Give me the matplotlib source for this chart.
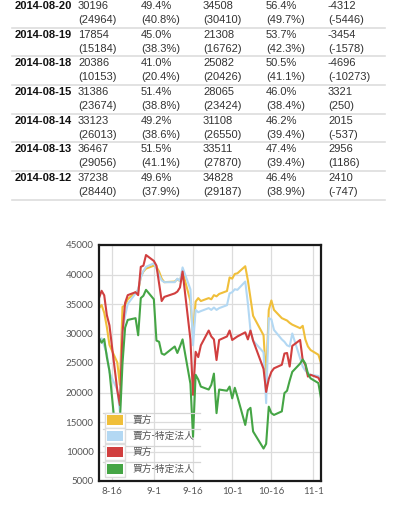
import numpy as np
import pandas as pd
import matplotlib
matplotlib.use("Agg")
import matplotlib.pyplot as plt
import matplotlib.dates as mdates
from matplotlib.patches import Rectangle

# --- table rows (top of picture) ---
tbl_dates = ["2014-08-20", "2014-08-19", "2014-08-18", "2014-08-15",
             "2014-08-14", "2014-08-13", "2014-08-12"]
tbl_buy = ["30196", "17854", "20386", "31386", "33123", "36467", "37238"]
tbl_buy_sub = ["(24964)", "(15184)", "(10153)", "(23674)", "(26013)", "(29056)", "(28440)"]
tbl_buy_pct = ["49.4%", "45.0%", "41.0%", "51.4%", "49.2%", "51.5%", "49.6%"]
tbl_buy_pct_sub = ["(40.8%)", "(38.3%)", "(20.4%)", "(38.8%)", "(38.6%)", "(41.1%)", "(37.9%)"]
tbl_sell = ["34508", "21308", "25082", "28065", "31108", "33511", "34828"]
tbl_sell_sub = ["(30410)", "(16762)", "(20426)", "(23424)", "(26550)", "(27870)", "(29187)"]
tbl_sell_pct = ["56.4%", "53.7%", "50.5%", "46.0%", "46.2%", "47.4%", "46.4%"]
tbl_sell_pct_sub = ["(49.7%)", "(42.3%)", "(41.1%)", "(38.4%)", "(39.4%)", "(39.4%)", "(38.9%)"]
tbl_diff = ["-4312", "-3454", "-4696", "3321", "2015", "2956", "2410"]
tbl_diff_sub = ["(-5446)", "(-1578)", "(-10273)", "(250)", "(-537)", "(1186)", "(-747)"]

# --- chart series (trading days) ---
days = ["2014-08-11", "2014-08-12", "2014-08-13", "2014-08-14", "2014-08-15",
        "2014-08-18", "2014-08-19", "2014-08-20", "2014-08-21", "2014-08-22",
        "2014-08-25", "2014-08-26", "2014-08-27", "2014-08-28", "2014-08-29",
        "2014-09-01", "2014-09-02", "2014-09-03", "2014-09-04", "2014-09-05",
        "2014-09-09", "2014-09-10", "2014-09-11", "2014-09-12",
        "2014-09-15", "2014-09-16", "2014-09-17", "2014-09-18", "2014-09-19",
        "2014-09-22", "2014-09-23", "2014-09-24", "2014-09-25", "2014-09-26",
        "2014-09-29", "2014-09-30", "2014-10-01", "2014-10-02", "2014-10-03",
        "2014-10-06", "2014-10-07", "2014-10-08", "2014-10-09",
        "2014-10-13", "2014-10-14", "2014-10-15", "2014-10-16", "2014-10-17",
        "2014-10-20", "2014-10-21", "2014-10-22", "2014-10-23", "2014-10-24",
        "2014-10-27", "2014-10-28", "2014-10-29", "2014-10-30", "2014-10-31",
        "2014-11-03", "2014-11-04"]

sell = [34300, 34828, 33511, 31108, 28065, 25082, 21308, 34508, 34800, 35800,
        37000, 37200, 39600, 40500, 41000, 41500, 41300, 40500, 39300, 38700,
        38800, 39200, 38900, 40500, 35500, 29500, 35400, 36000, 35500,
        36000, 35800, 36500, 36300, 36700, 37200, 39500, 39300, 40100, 40200,
        41400, 39000, 36000, 33000, 29700, 22500, 34000, 35600, 34000,
        32600, 32400, 32200, 31800, 31500, 30900, 31300, 29000, 27800, 27200,
        26400, 25000]
sell_inst = [28800, 29187, 27870, 26550, 23424, 20426, 16762, 30410, 33000, 35000,
             36800, 37500, 39500, 40600, 41300, 41900, 41000, 39900, 39000, 38700,
             38700, 39300, 38900, 41200, 37500, 28000, 34000, 33600, 33800,
             34300, 34000, 34400, 34000, 34300, 34800, 36800, 37000, 37500, 37400,
             38800, 35100, 30500, 28800, 26800, 18200, 32600, 32400, 30600,
             29000, 28600, 28000, 27800, 30000, 25800, 24400, 23700, 23300, 23000,
             22800, 21800]
buy = [36000, 37238, 36467, 33123, 31386, 20386, 17854, 30196, 35200, 36500,
       37000, 36500, 41300, 41500, 43300, 42300, 41500, 38500, 35500, 36200,
       36800, 37100, 37800, 40500, 29000, 19600, 26900, 26000, 28000,
       30500, 29500, 29000, 25500, 28900, 29500, 30500, 28900, 29200, 29500,
       30200, 29000, 30500, 28800, 24000, 20100, 22300, 23500, 24100,
       24700, 26600, 26700, 24400, 27900, 28900, 25500, 24700, 22700, 23000,
       22500, 21600]
buy_inst = [29200, 28440, 29056, 26013, 23674, 10153, 15184, 24964, 31000, 32300,
            32600, 29700, 36000, 36400, 37400, 35800, 28800, 28600, 26600, 26400,
            27800, 26700, 27800, 29000, 21500, 12500, 23000, 22200, 21000,
            20500, 21300, 23200, 16500, 20500, 20300, 21000, 19000, 20800, 19300,
            14500, 17000, 17400, 13400, 10500, 11300, 17600, 16500, 16200,
            16800, 19900, 20300, 22000, 23500, 24900, 25600, 24900, 23200, 22400,
            21600, 19000]

labels = ["賣方", "賣方-特定法人", "買方", "買方-特定法人"]
colors = ["#f0bf3a", "#b3d8f3", "#d13f3f", "#45a545"]

tick_days = ["2014-08-16", "2014-09-01", "2014-09-16", "2014-10-01", "2014-10-16", "2014-11-01"]
tick_labels = ["8-16", "9-1", "9-16", "10-1", "10-16", "11-1"]

W, H = 397, 512
fig = plt.figure(figsize=(W / 100, H / 100), dpi=100)

# table
col_x = [15, 78, 141, 203, 266, 328]
row_h = 28.7
for i in range(len(tbl_dates)):
    y1 = 6 + i * row_h
    y2 = 20 + i * row_h
    fig.text(col_x[0] / W, 1 - y1 / H, tbl_dates[i], fontsize=8, fontweight="bold",
             family="Liberation Sans", color="#111", va="center")
    tops = [tbl_buy[i], tbl_buy_pct[i], tbl_sell[i], tbl_sell_pct[i], tbl_diff[i]]
    bots = [tbl_buy_sub[i], tbl_buy_pct_sub[i], tbl_sell_sub[i], tbl_sell_pct_sub[i], tbl_diff_sub[i]]
    for j in range(5):
        fig.text(col_x[j + 1] / W, 1 - y1 / H, tops[j], fontsize=8,
                 family="Liberation Sans", color="#333", va="center")
        fig.text(col_x[j + 1] / W, 1 - y2 / H, bots[j], fontsize=8,
                 family="Liberation Sans", color="#333", va="center")
    ysep = 1 - (27.5 + i * row_h) / H
    fig.add_artist(plt.Line2D([12 / W, 385 / W], [ysep, ysep], color="#dddddd", lw=1.2))

# chart
ax = fig.add_axes([99 / W, 1 - 481 / H, 222 / W, 236 / H])
x = pd.to_datetime(days)
for series, lab, c in zip([sell, sell_inst, buy, buy_inst], labels, colors):
    ax.plot(x, series, color=c, lw=1.5, label=lab)

ax.set_xlim(pd.Timestamp("2014-08-11"), pd.Timestamp("2014-11-04"))
ax.set_ylim(5000, 45000)
ax.set_yticks(np.arange(5000, 45001, 5000))
ax.set_xticks(pd.to_datetime(tick_days))
ax.set_xticklabels(tick_labels)
ax.tick_params(length=0, labelsize=7, labelcolor="#555", pad=4)
for lab in ax.get_xticklabels() + ax.get_yticklabels():
    lab.set_family("Lato")
ax.grid(True, color="#dcdcdc", lw=0.9)
ax.set_axisbelow(True)
for s in ax.spines.values():
    s.set_color("#1a1a1a")
    s.set_linewidth(1.6)

# legend drawn by hand: swatch, text and thin separators
row_y = [0.258, 0.191, 0.123, 0.051]
sep_y = [0.289, 0.219, 0.148, 0.082]
for yy in sep_y:
    ax.plot([0.02, 0.455], [yy, yy], transform=ax.transAxes, color="#d5d5d5", lw=0.9, zorder=5)
for yy, lab, c in zip(row_y, labels, colors):
    ax.add_patch(Rectangle((0.027, yy - 0.032), 0.09, 0.064, transform=ax.transAxes,
                           facecolor="white", edgecolor="#dddddd", lw=1.0, zorder=6))
    ax.add_patch(Rectangle((0.038, yy - 0.021), 0.068, 0.042, transform=ax.transAxes,
                           facecolor=c, edgecolor="none", zorder=7))
    ax.text(0.149, yy, lab, transform=ax.transAxes, fontsize=7, color="#555",
            family=["Noto Sans CJK TC", "DejaVu Sans"], va="center", zorder=7)

fig.savefig("out.png", dpi=100)
